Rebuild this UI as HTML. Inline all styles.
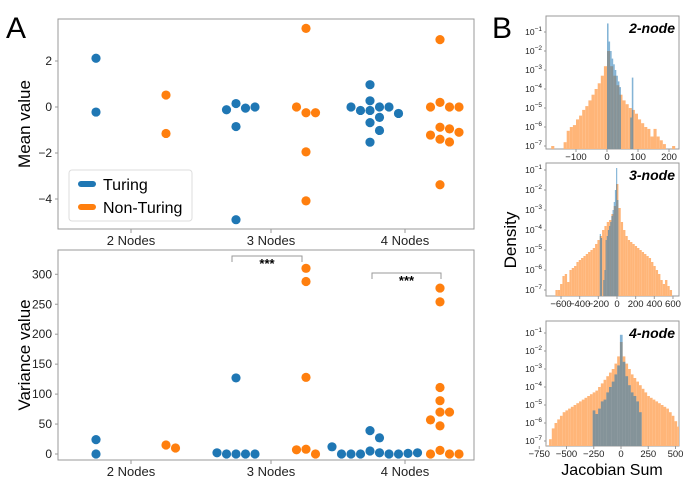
<!DOCTYPE html>
<html><head><meta charset="utf-8"><style>
html,body{margin:0;padding:0;background:#fff}
svg{display:block;font-family:"Liberation Sans",Arial,sans-serif}
</style></head><body>
<svg id="fig" width="685" height="479" viewBox="0 0 685 479" xmlns="http://www.w3.org/2000/svg">
<text x="6" y="38" font-size="30">A</text>
<text x="492" y="38" font-size="30">B</text>
<g id="meanAx"></g>
<g id="varAx"></g>
<g id="h1"></g>
<g id="h2"></g>
<g id="h3"></g>
<text transform="translate(30,124) rotate(-90)" text-anchor="middle" font-size="17">Mean value</text>
<text transform="translate(30,355) rotate(-90)" text-anchor="middle" font-size="17">Variance value</text>
<text transform="translate(516,240) rotate(-90)" text-anchor="middle" font-size="17">Density</text>
<text x="612" y="475" text-anchor="middle" font-size="16">Jacobian Sum</text>
<g>
<rect x="69" y="170" width="123" height="51" rx="3" fill="#fff" fill-opacity="0.85" stroke="#ddd"/>
<line x1="81" y1="184" x2="93" y2="184" stroke="#1f77b4" stroke-width="6" stroke-linecap="round"/>
<text x="103" y="190" font-size="16">Turing</text>
<line x1="81" y1="207" x2="93" y2="207" stroke="#ff7f0e" stroke-width="6" stroke-linecap="round"/>
<text x="103" y="213" font-size="16">Non-Turing</text>
</g>
</svg>
<script>
const NS="http://www.w3.org/2000/svg";
const categories=["2 Nodes","3 Nodes","4 Nodes"];
const meanTuring=[[2.12,-0.22],[0.15,-0.05,-0.12,0.0,-0.85,-4.9],[0.97,0.27,0.0,-0.15,-0.15,0.0,0.0,-0.45,-0.28,-0.68,-1.02,-1.53]];
const meanNonTuring=[[0.52,-1.15],[3.42,-0.25,-0.25,0.0,-1.95,-4.08],[2.93,0.2,0.0,0.0,0.0,-0.88,-0.95,-1.4,-1.52,-1.22,-1.1,-3.38]];
const varTuring=[[24,0],[127,0,0,0,0,2],[5,2,0,0,0,0,0,1,39,27,12,2]];
const varNonTuring=[[15,10],[310,288,128,8,0,7],[277,254,111,89,70,70,57,47,6,0,0,0]];
const meanTicks=[2,0,-2,-4];
const varTicks=[0,50,100,150,200,250,300];
// histograms: bin starts/step and log10 density values (null = empty)
const h1OrangeStart=-180, h1Step=10;
const h1Orange=[-7,null,null,null,-6.8,-6.2,-6.0,-5.9,-5.6,-5.4,-5.1,-4.9,-4.6,-4.3,-4.0,-3.7,-3.3,-2.8,-2.0,-2.8,-3.3,-3.8,-4.3,-4.6,-4.8,-5.0,-5.1,-5.3,-5.6,-5.8,-6.0,-6.1,-6.5,-6.1,-6.5,-6.7,-6.9,-7.5,null,-7];
const h1BlueStart=0, h1BlueStep=5;
const h1Blue=[-0.55,-1.5,-2.0,-2.4,-2.7,-3.0,-3.3,-3.6,-3.9,null,null,null,null,null,null,-5.5,-3.4];
const h2OrangeStart=-660, h2Step=25;
const h2Orange=[-7,-7,-6.7,-6.3,-6.2,-6.6,-6.0,-5.9,-5.8,-5.6,-5.5,-5.4,-5.3,-5.2,-5.1,-5.0,-4.9,-4.7,-4.5,-4.3,-4.0,-3.8,-3.6,-3.5,-3.2,-2.8,-1.7,-2.9,-3.6,-4.0,-4.3,-4.5,-4.6,-4.7,-4.8,-4.9,-5.0,-5.1,-5.2,-5.3,-5.4,-5.6,-5.8,-6.0,-6.2,-6.5,-6.7,-6.5,-6.8,-7.0,-7.3];
const h2BlueStart=-185, h2BlueStep=12.5;
const h2Blue=[-4.2,-4.4,null,-6.5,-6.0,-4.5,-4.3,-4.0,-3.8,-3.6,-3.3,-3.0,-2.6,-2.0,-0.9,-2.5];
const h3OrangeStart=-785, h3Step=25;
const h3Orange=[-7.2,null,null,-7.2,null,-6.9,-6.3,-6.0,-5.8,-5.6,-5.4,-5.3,-5.2,-5.1,-5.0,-4.9,-4.8,-4.7,-4.6,-4.5,-4.4,-4.3,-4.2,-4.0,-3.8,-3.6,-3.4,-3.2,-3.0,-2.7,-2.3,-1.5,-2.3,-2.7,-3.0,-3.3,-3.5,-3.7,-3.9,-4.1,-4.3,-4.5,-4.6,-4.7,-4.8,-4.9,-5.0,-5.1,-5.2,-5.4,-5.6,-5.9,-6.2,-6.4,-6.8,-7.1];
const h3BlueStart=-260, h3BlueStep=25;
const h3Blue=[-5.3,-5.5,-5.2,-4.8,-4.7,-4.3,-4.0,-3.7,-3.3,-2.8,-1.1,-2.6,-3.4,-3.9,-4.3,-4.5,-4.8,-5.4];

const svg=document.getElementById('fig');
function mk(parent,tag,attrs,txt){const e=document.createElementNS(NS,tag);for(const k in attrs)e.setAttribute(k,attrs[k]);if(txt!==undefined)e.textContent=txt;parent.appendChild(e);return e;}

function swarm(vals,cx,yf,d){
  const placed=[];const out=[];
  for(let i=0;i<vals.length;i++){
    const y=yf(vals[i]);let k=0,x=cx;
    while(true){
      const off=k===0?0:(k%2?1:-1)*Math.ceil(k/2)*d;
      x=cx+off;
      if(placed.every(p=>Math.hypot(p[0]-x,p[1]-y)>=d-0.5))break;
      k++; if(k>40)break;
    }
    placed.push([x,y]);out.push([x,y]);
  }
  return out;
}
function stripPanel(g,top,bottom,yf,ticks,name,dataT,dataN){
  const L=58,R=474;
  mk(g,'rect',{x:L,y:top,width:R-L,height:bottom-top,fill:'none',stroke:'#999','stroke-width':1});
  const cx=[131,271,405];
  categories.forEach((c,i)=>{
    mk(g,'line',{x1:cx[i],x2:cx[i],y1:bottom,y2:bottom+4,stroke:'#999'});
    const t=mk(g,'text',{x:cx[i],y:bottom+16,'text-anchor':'middle','font-size':13,fill:'#222'},c);
    
    
  });
  ticks.forEach(v=>{
    const y=yf(v);
    mk(g,'line',{x1:L-3,x2:L,y1:y,y2:y,stroke:'#999'});
    const t=mk(g,'text',{x:L-6,y:y+4,'text-anchor':'end','font-size':12,fill:'#222'},v<0?'\u2212'+(-v):String(v));
    
    
  });
  const d=9.5;
  [[dataT,'#1f77b4',-35,'turing'],[dataN,'#ff7f0e',35,'non-turing']].forEach(([data,col,off,nm])=>{
    data.forEach((vals,i)=>{
      swarm(vals,cx[i]+off,yf,d).forEach(p=>{
        const c=mk(g,'circle',{cx:p[0],cy:p[1],r:4.6,fill:col});
        
        
      });
    });
  });
}
const meanY=v=>107-23*v;
stripPanel(document.getElementById('meanAx'),19,229,meanY,meanTicks,'mean',meanTuring,meanNonTuring);
const varY=v=>454-0.599*v;
const vg=document.getElementById('varAx');
stripPanel(vg,250,460,varY,varTicks,'variance',varTuring,varNonTuring);
[[232,302,256],[372,441,273]].forEach(([a,b,y])=>{
  const p=mk(vg,'path',{d:`M${a},${y+6}V${y}H${b}V${y+6}`,fill:'none',stroke:'#999'});
  
  
  const t=mk(vg,'text',{x:(a+b)/2,y:y+12,'text-anchor':'middle','font-size':13,'font-weight':'bold'},'***');
  
  
});

function hist(id,cfg){
  const g=document.getElementById(id);
  const {L,R,top,bot,y1,y7,x0,sx,xt,label,os,ostep,od,bs,bstep,bd}=cfg;
  const dec=(y7-y1)/6;
  const yf=l=>y1+(-1-l)*dec;
  const xf=v=>x0+v*sx;
  mk(g,'rect',{x:L,y:top,width:R-L,height:bot-top,fill:'#fff',stroke:'#999'});
  const cp=mk(g,'clipPath',{id:id+'c'});mk(cp,'rect',{x:L,y:top,width:R-L,height:bot-top});
  const bars=mk(g,'g',{'clip-path':`url(#${id}c)`});
  od.forEach((l,i)=>{if(l===null)return;const xa=xf(os+i*ostep),xb=xf(os+(i+1)*ostep);const y=yf(l);
    const r=mk(bars,'rect',{x:xa,y:y,width:xb-xa,height:bot-y,fill:'#ffb578'});
    
    });
  bd.forEach((l,i)=>{if(l===null)return;const xa=xf(bs+i*bstep),xb=xf(bs+(i+1)*bstep);const y=yf(l);
    const r=mk(bars,'rect',{x:xa,y:y,width:xb-xa,height:bot-y,fill:'#1f77b4','fill-opacity':0.55});
    
    });
  for(let k=1;k<=7;k++){const y=yf(-k);
    mk(g,'line',{x1:L-2,x2:L,y1:y,y2:y,stroke:'#999'});
    const t=mk(g,'text',{x:L-4,y:y+3,'text-anchor':'end','font-size':8.5,fill:'#222'});
    
    
    t.appendChild(document.createTextNode('10'));
    mk(t,'tspan',{dy:-4,'font-size':6.5},'\u2212'+k);}
  xt.forEach(v=>{const x=xf(v);
    mk(g,'line',{x1:x,x2:x,y1:bot,y2:bot+3,stroke:'#999'});
    const t=mk(g,'text',{x:x,y:bot+11,'text-anchor':'middle','font-size':9.5,fill:'#222'},v<0?'\u2212'+(-v):String(v));
    
    });
  const t=mk(g,'text',{x:R-4,y:top+17,'text-anchor':'end','font-size':14,'font-weight':'bold','font-style':'italic'},label);
  
  
}
hist('h1',{L:546,R:679,top:16,bot:149,y1:32,y7:146,x0:607,sx:0.31,xt:[-100,0,100,200],label:'2-node',os:h1OrangeStart,ostep:h1Step,od:h1Orange,bs:h1BlueStart,bstep:h1BlueStep,bd:h1Blue});
hist('h2',{L:546,R:679,top:163,bot:296,y1:170,y7:290,x0:617,sx:0.0933,xt:[-600,-400,-200,0,200,400,600],label:'3-node',os:h2OrangeStart,ostep:h2Step,od:h2Orange,bs:h2BlueStart,bstep:h2BlueStep,bd:h2Blue});
hist('h3',{L:546,R:679,top:321,bot:446,y1:333,y7:441,x0:621,sx:0.109,xt:[-750,-500,-250,0,250,500],label:'4-node',os:h3OrangeStart,ostep:h3Step,od:h3Orange,bs:h3BlueStart,bstep:h3BlueStep,bd:h3Blue});
</script>
</body></html>
